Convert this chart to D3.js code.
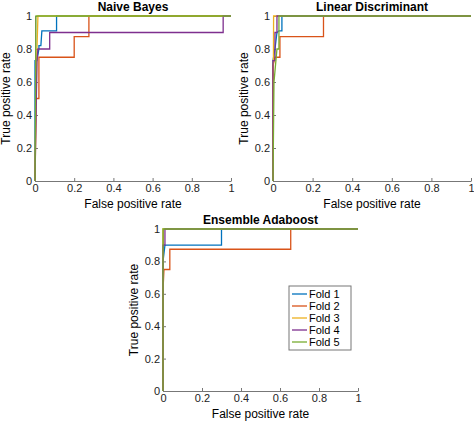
<!DOCTYPE html><html><head><script src="https://cdn.jsdelivr.net/npm/d3@7"></script>
<style>body{margin:0;background:#fff}text{font-family:"Liberation Sans",Arial,sans-serif}</style></head><body>
<svg id="c" width="474" height="423"></svg>
<script>
const folds=["Fold 1","Fold 2","Fold 3","Fold 4","Fold 5"];
const colors=["#0072BD","#D95319","#EDB120","#7E2F8E","#77AC30"];
const ticks=[0,0.2,0.4,0.6,0.8,1];
const nbX=[[0,0,0.01,0.02,0.02,0.03,0.035,0.11,0.11,1],[0,0.005,0.02,0.02,0.2,0.2,0.275,0.275,1],[0,0.01,0.015,1],[0,0.01,0.015,0.075,0.075,0.96,0.96,1],[0,0.005,1]];
const nbY=[[0,0.73,0.73,0.8,0.82,0.82,0.91,0.91,1,1],[0,0.5,0.5,0.75,0.75,0.875,0.875,1,1],[0,0.8,1,1],[0,0.73,0.8,0.8,0.9,0.9,1,1],[0,1,1]];
const ldX=[[0,0,0.01,0.02,0.03,0.045,0.045,1],[0,0,0.01,0.035,0.035,0.255,0.255,1],[0,0.003,1],[0,0,0.01,0.01,0.02,0.02,1],[0,0.005,0.02,0.03,0.03,1]];
const ldY=[[0,0.73,0.8,0.9,0.91,0.91,1,1],[0,0.7,0.75,0.75,0.875,0.875,1,1],[0,1,1],[0,0.73,0.73,0.9,0.9,1,1],[0,0.6,0.8,0.8,1,1]];
const eaX=[[0,0,0.01,0.3,0.3,1],[0,0,0.005,0.035,0.035,0.655,0.655,1],[0,0,1],[0,0,0.01,0.01,1],[0,0,1]];
const eaY=[[0,0.8,0.9,0.9,1,1],[0,0.62,0.75,0.75,0.875,0.875,1,1],[0,1,1],[0,0.9,0.9,1,1],[0,1,1]];
const svg=d3.select("#c");
function panel(title,xs,ys,x0,x1,y0,y1,legend){
  const x=d3.scaleLinear().domain([0,1]).range([x0,x1]);
  const y=d3.scaleLinear().domain([0,1]).range([y0,y1]);
  const g=svg.append("g");
  const ax=g.append("g").attr("transform",`translate(0,${y0})`).call(d3.axisBottom(x).tickValues(ticks).tickFormat(d3.format("~g")).tickSizeInner(-3).tickSizeOuter(0).tickPadding(3));
  const ay=g.append("g").attr("transform",`translate(${x0},0)`).call(d3.axisLeft(y).tickValues(ticks).tickFormat(d3.format("~g")).tickSizeInner(-3).tickSizeOuter(0).tickPadding(3));
  [ax,ay].forEach(a=>{a.selectAll("path,line").attr("stroke","#777");a.selectAll("text").attr("font-size",11).attr("fill","#222");});
  const line=d3.line().x(d=>x(d[0])).y(d=>y(d[1]));
  xs.forEach((xa,i)=>g.append("path").attr("d",line(xa.map((v,j)=>[v,ys[i][j]]))).attr("fill","none").attr("stroke",colors[i]).attr("stroke-width",1.3));
  g.append("text").attr("x",(x0+x1)/2).attr("y",y1-5).attr("text-anchor","middle").attr("font-weight","bold").attr("font-size",12).text(title);
  g.append("text").attr("x",(x0+x1)/2).attr("y",y0+27).attr("text-anchor","middle").attr("font-size",12).text("False positive rate");
  g.append("text").attr("transform",`translate(${x0-25},${(y0+y1)/2}) rotate(-90)`).attr("text-anchor","middle").attr("font-size",12).text("True positive rate");
  if(legend){
    const lx=289,ly=286;
    g.append("rect").attr("x",lx).attr("y",ly).attr("width",62).attr("height",64).attr("fill","#fff").attr("stroke","#777");
    folds.forEach((f,i)=>{const yy=ly+8+i*12;
      g.append("line").attr("x1",lx+3).attr("x2",lx+18).attr("y1",yy).attr("y2",yy).attr("stroke",colors[i]).attr("stroke-width",1.3);
      g.append("text").attr("x",lx+20).attr("y",yy+4).attr("font-size",11).text(f);});
  }
}
panel("Naive Bayes",nbX,nbY,35,231,181,16,false);
panel("Linear Discriminant",ldX,ldY,273,471,181,16,false);
panel("Ensemble Adaboost",eaX,eaY,163,358,391,229,true);
</script></body></html>
